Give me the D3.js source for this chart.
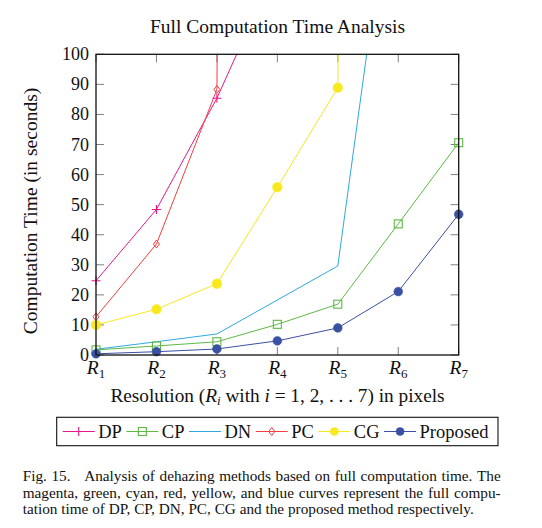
<!DOCTYPE html>
<html><head><meta charset="utf-8">
<script src="https://cdn.jsdelivr.net/npm/d3@7/dist/d3.min.js"></script>
<style>
body{margin:0;background:#fff}
svg{display:block}
text{font-family:"Liberation Serif","Times New Roman",serif;fill:#111}
</style>
</head><body>
<svg id="c" width="542" height="528"></svg>
<script>
// ---------------- data ----------------
const categories = ["1","2","3","4","5","6","7"];          // R_i subscripts
const yTicks = [0,10,20,30,40,50,60,70,80,90,100];
const seriesNames = ["DP","CP","DN","PC","CG","Proposed"];
const dpValues       = [24.7, 48.4, 85.4, 130];
const cpValues       = [1.7, 3.0, 4.4, 10.2, 16.9, 43.6, 70.6];
const dnValues       = [1.9, 4.4, 7.0, 18.3, 29.6, 177];
const pcValues       = [12.7, 36.9, 88.3, 2500];
const cgValues       = [10.0, 15.2, 23.7, 55.8, 88.9, 2500];
const proposedValues = [0.4, 1.1, 2.0, 4.7, 9.0, 21.1, 46.8];
const titleText = "Full Computation Time Analysis";
const yLabelText = "Computation Time (in seconds)";
const captionLines = [
  "Fig. 15. Analysis of dehazing methods based on full computation time. The",
  "magenta, green, cyan, red, yellow, and blue curves represent the full compu-",
  "tation time of DP, CP, DN, PC, CG and the proposed method respectively."
];

// ---------------- styles ----------------
const styles = {
  DP:       {color:"#e8168c", marker:"plus"},
  CP:       {color:"#5db844", marker:"square"},
  DN:       {color:"#2fa8e0", marker:"none"},
  PC:       {color:"#f0403f", marker:"diamond"},
  CG:       {color:"#f9e81e", marker:"circle", r:4.8},
  Proposed: {color:"#3a50a2", marker:"circle", r:4.4}
};
const valuesByName = {DP:dpValues, CP:cpValues, DN:dnValues, PC:pcValues, CG:cgValues, Proposed:proposedValues};

const svg = d3.select("#c");
const L = 96, R = 458.7, T = 54.3, B = 355;

const x = d3.scalePoint().domain(categories).range([L, R]).padding(0);
const y = d3.scaleLinear().domain([0, 100]).range([B, T]);

// clip
svg.append("defs").append("clipPath").attr("id","plotclip")
  .append("rect").attr("x",L).attr("y",T).attr("width",R-L).attr("height",B-T);

// ticks (inward, both sides)
const tickLen = 8;
const tg = svg.append("g").attr("stroke","#808080").attr("stroke-width",1);
categories.forEach(c=>{
  tg.append("line").attr("x1",x(c)).attr("x2",x(c)).attr("y1",B).attr("y2",B-tickLen);
  tg.append("line").attr("x1",x(c)).attr("x2",x(c)).attr("y1",T).attr("y2",T+tickLen);
});
yTicks.forEach(v=>{
  tg.append("line").attr("x1",L).attr("x2",L+tickLen).attr("y1",y(v)).attr("y2",y(v));
  tg.append("line").attr("x1",R).attr("x2",R-tickLen).attr("y1",y(v)).attr("y2",y(v));
});

// marker drawing
function drawMarker(g, type, cx, cy, color, r){
  if(type==="plus"){
    g.append("path").attr("d",`M${cx-4.5},${cy}H${cx+4.5}M${cx},${cy-4.5}V${cy+4.5}`)
      .attr("stroke",color).attr("stroke-width",1.1).attr("fill","none");
  } else if(type==="square"){
    g.append("rect").attr("x",cx-4).attr("y",cy-4).attr("width",8).attr("height",8)
      .attr("stroke",color).attr("stroke-width",1.1).attr("fill","none");
  } else if(type==="diamond"){
    g.append("path").attr("d",`M${cx},${cy-4}L${cx+3},${cy}L${cx},${cy+4}L${cx-3},${cy}Z`)
      .attr("stroke",color).attr("stroke-width",1).attr("fill","none");
  } else if(type==="circle"){
    g.append("circle").attr("cx",cx).attr("cy",cy).attr("r",r||4.5)
      .attr("fill",color).attr("stroke",color).attr("stroke-width",0.5);
  }
}

// lines
const line = d3.line().x((d,i)=>x(categories[i])).y(d=>y(d));
const lg = svg.append("g").attr("clip-path","url(#plotclip)");
seriesNames.forEach(n=>{
  lg.append("path").datum(valuesByName[n]).attr("d",line)
    .attr("fill","none").attr("stroke",styles[n].color).attr("stroke-width",1)
    .attr("stroke-linejoin","round");
});
// markers
const mg = svg.append("g");
seriesNames.forEach(n=>{
  valuesByName[n].forEach((v,i)=>{
    if(v<=100) drawMarker(mg, styles[n].marker, x(categories[i]), y(v), styles[n].color, styles[n].r);
  });
});

// frame
svg.append("rect").attr("x",L).attr("y",T).attr("width",R-L).attr("height",B-T)
  .attr("fill","none").attr("stroke","#111").attr("stroke-width",1.3);

// y tick labels
yTicks.forEach(v=>{
  svg.append("text").attr("x",89).attr("y",y(v)).attr("text-anchor","end")
    .attr("dominant-baseline","central").attr("font-size",18).text(v);
});
// x tick labels
categories.forEach(c=>{
  const t = svg.append("text").attr("x",x(c)).attr("y",374).attr("text-anchor","middle").attr("font-size",19.5);
  t.append("tspan").attr("font-style","italic").text("R");
  t.append("tspan").attr("font-size",13).attr("dy",4).text(c);
});

// title
svg.append("text").attr("x",277.5).attr("y",33).attr("text-anchor","middle").attr("font-size",19.5).text(titleText);

// y label
svg.append("text").attr("transform","translate(37,211) rotate(-90)").attr("text-anchor","middle")
  .attr("font-size",19.5).text(yLabelText);

// x label
{
  const t = svg.append("text").attr("x",277.5).attr("y",402).attr("text-anchor","middle").attr("font-size",19.3);
  t.append("tspan").text("Resolution (");
  t.append("tspan").attr("font-style","italic").text("R");
  t.append("tspan").attr("font-style","italic").attr("font-size",13).attr("dy",3).text("i");
  t.append("tspan").attr("dy",-3).text(" with ");
  t.append("tspan").attr("font-style","italic").text("i");
  t.append("tspan").text(" = 1, 2, . . . 7) in pixels");
}

// legend
{
  const box = {x:56.7, y:417.3, w:441.3, h:28.4};
  const cy = box.y + box.h/2;
  const g = svg.append("g");
  let cx = 62.7;
  seriesNames.forEach(n=>{
    const s = styles[n];
    g.append("line").attr("x1",cx).attr("x2",cx+32).attr("y1",cy).attr("y2",cy)
      .attr("stroke",s.color).attr("stroke-width",1);
    drawMarker(g, s.marker, cx+16, cy, s.color, s.marker==="circle"?4:undefined);
    const t = g.append("text").attr("x",cx+35.5).attr("y",cy).attr("dominant-baseline","central")
      .attr("font-size",18.5).text(n);
    cx = cx + 35.5 + t.node().getComputedTextLength() + 4.5;
  });
  svg.append("rect").attr("x",box.x).attr("y",box.y).attr("width",box.w).attr("height",box.h)
    .attr("fill","none").attr("stroke","#111").attr("stroke-width",1.1);
}

// caption (justified)
{
  const fs = 15.25, left = 22.7, width = 478, baselines = [481, 497.7, 514.3];
  const meas = svg.append("text").attr("font-size",fs).attr("x",-1000).attr("y",-1000);
  const wlen = w => { meas.text(w); return meas.node().getComputedTextLength(); };
  const spaceW = fs*0.25;
  captionLines.forEach((ln,li)=>{
    const words = ln.split(" ");
    const widths = words.map(wlen);
    const total = d3.sum(widths);
    const extra = li===0 ? 9 : 0;   // wider gap after "Fig. 15."
    const justify = li < captionLines.length-1;
    const gap = justify ? (width - total - extra)/(words.length-1) : spaceW;
    let px = left;
    words.forEach((w,i)=>{
      svg.append("text").attr("x",px).attr("y",baselines[li]).attr("font-size",fs).text(w);
      px += widths[i] + gap + (li===0 && i===1 ? extra : 0);
    });
  });
  meas.remove();
}
</script>
</body></html>
